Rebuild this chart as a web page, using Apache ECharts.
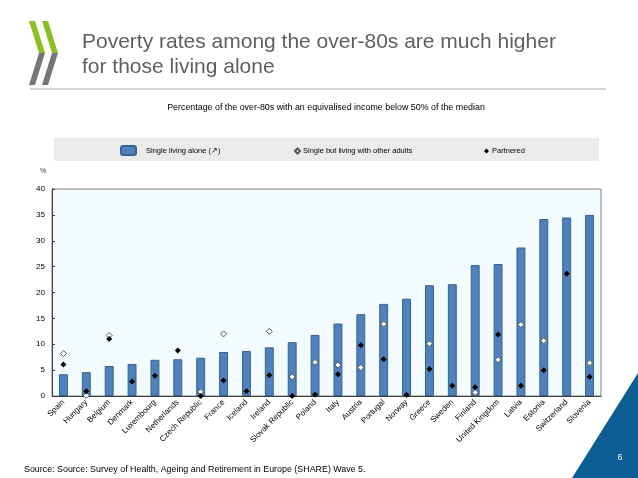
<!DOCTYPE html>
<html>
<head>
<meta charset="utf-8">
<script src="https://cdn.jsdelivr.net/npm/echarts@6/dist/echarts.min.js"></script>
<style>
  html, body { margin: 0; padding: 0; background: #fff; }
  #chart { width: 638px; height: 478px; }
</style>
</head>
<body>
<div id="chart"></div>
<script>
// Countries, sorted by poverty rate of those living alone
const countries = ['Spain', 'Hungary', 'Belgium', 'Denmark', 'Luxembourg', 'Netherlands', 'Czech Republic',
    'France', 'Iceland', 'Ireland', 'Slovak Republic', 'Poland', 'Italy', 'Austria', 'Portugal', 'Norway',
    'Greece', 'Sweden', 'Finland', 'United Kingdom', 'Latvia', 'Estonia', 'Switzerland', 'Slovenia'];

const livingAlone = [4.2, 4.6, 5.8, 6.2, 7.0, 7.1, 7.4, 8.5, 8.7, 9.4, 10.4, 11.8,
    14.0, 15.8, 17.8, 18.8, 21.4, 21.6, 25.3, 25.5, 28.7, 34.2, 34.5, 35.0];

const withOthers = [8.2, 0.1, 11.7, null, null, null, 0.8, 12.0, null, 12.5, 3.7, 6.5,
    6.0, 5.5, 13.9, null, 10.1, null, 0.7, 7.0, 13.8, 10.7, null, 6.4];

const partnered = [6.1, 0.9, 11.0, 2.8, 3.9, 8.8, 0.0, 3.0, 0.9, 4.0, 0.0, 0.3,
    4.2, 9.8, 7.1, 0.2, 5.2, 2.0, 1.7, 11.9, 2.0, 5.0, 23.6, 3.7];

const yTicks = { min: 0, max: 40, step: 5 };

const FONT = "'Liberation Sans', Arial, sans-serif";

const chart = echarts.init(document.getElementById('chart'));

const legendText = { fontFamily: FONT, fontSize: 7.5, color: '#000' };

chart.setOption({
    animation: false,
    backgroundColor: '#fff',
    grid: {
        left: 52, right: 37, top: 189, bottom: 82,
        show: true, backgroundColor: '#f4fbfe', borderColor: '#7f7f7f', borderWidth: 1
    },
    legend: [
        { data: ['Single living alone (↗)'], left: 120, top: 145, padding: 0,
          itemWidth: 15, itemHeight: 9, textStyle: Object.assign({ padding: [0, 0, 0, 5] }, legendText) },
        { data: ['Single but living with other adults'], left: 294, top: 147, padding: 0,
          itemWidth: 5, itemHeight: 5, textStyle: Object.assign({ padding: [0, 0, 0, -2] }, legendText) },
        { data: ['Partnered'], left: 484, top: 147, padding: 0,
          itemWidth: 5, itemHeight: 5, textStyle: Object.assign({ padding: [0, 0, 0, -2] }, legendText) }
    ],
    xAxis: {
        type: 'category',
        data: countries,
        axisLine: { lineStyle: { color: '#404040' } },
        axisTick: { inside: true, length: 3, lineStyle: { color: '#404040' } },
        axisLabel: { rotate: 45, interval: 0, fontFamily: FONT, fontSize: 8, color: '#000', margin: 5 }
    },
    yAxis: {
        type: 'value',
        min: yTicks.min, max: yTicks.max, interval: yTicks.step,
        splitLine: { show: false },
        axisLine: { show: true, lineStyle: { color: '#404040' } },
        axisTick: { show: true, inside: true, length: 3, lineStyle: { color: '#404040' } },
        axisLabel: { fontFamily: FONT, fontSize: 8, color: '#000', margin: 7 }
    },
    series: [
        {
            name: 'Single living alone (↗)', type: 'bar', data: livingAlone, barWidth: '39%',
            itemStyle: { color: '#4f81bd', borderColor: '#38618f', borderWidth: 1 }
        },
        {
            name: 'Single but living with other adults', type: 'scatter', data: withOthers,
            symbol: 'diamond', symbolSize: 6,
            itemStyle: { color: '#fff', borderColor: '#555', borderWidth: 1, opacity: 1 }
        },
        {
            name: 'Partnered', type: 'scatter', data: partnered,
            symbol: 'diamond', symbolSize: 6,
            itemStyle: { color: '#000', opacity: 1 }
        }
    ],
    graphic: [
        // logo chevrons
        { type: 'polygon', shape: { points: [[29, 21], [35, 21], [45, 53], [39, 53]] }, style: { fill: '#8cbf26' } },
        { type: 'polygon', shape: { points: [[39, 53], [45, 53], [35, 85], [29, 85]] }, style: { fill: '#767676' } },
        { type: 'polygon', shape: { points: [[42, 21], [48, 21], [58, 53], [52, 53]] }, style: { fill: '#8cbf26' } },
        { type: 'polygon', shape: { points: [[52, 53], [58, 53], [48, 85], [42, 85]] }, style: { fill: '#767676' } },
        // title
        { type: 'text', left: 82, top: 32, style: { text: 'Poverty rates among the over-80s are much higher',
            fontFamily: FONT, fontSize: 21, fill: '#5f5f5f' } },
        { type: 'text', left: 82, top: 57, style: { text: 'for those living alone',
            fontFamily: FONT, fontSize: 21, fill: '#5f5f5f' } },
        { type: 'line', shape: { x1: 30, y1: 89, x2: 606, y2: 89 }, style: { stroke: '#d4d4d4', lineWidth: 2 } },
        // subtitle
        { type: 'text', x: 326, y: 108, style: { text: 'Percentage of the over-80s with an equivalised income below 50% of the median',
            fontFamily: FONT, fontSize: 8.9, fill: '#000', align: 'center', verticalAlign: 'middle' } },
        // legend background
        { type: 'rect', z: -1, shape: { x: 54, y: 138, width: 545, height: 23 }, style: { fill: '#ebebeb' } },
        { type: 'text', x: 40, y: 171, style: { text: '%', fontFamily: FONT, fontSize: 7, fill: '#333', verticalAlign: 'middle' } },
        // footer
        { type: 'text', x: 24, y: 470, style: { text: 'Source: Source: Survey of Health, Ageing and Retirement in Europe (SHARE) Wave 5.',
            fontFamily: FONT, fontSize: 8.9, fill: '#000', verticalAlign: 'middle' } },
        { type: 'polygon', shape: { points: [[638, 373], [638, 478], [572, 478]] }, style: { fill: '#0b5d93' } },
        { type: 'text', x: 620, y: 458, style: { text: '6', fontFamily: FONT, fontSize: 9, fill: '#fff',
            align: 'center', verticalAlign: 'middle' } }
    ]
});

window.addEventListener('resize', () => chart.resize());
</script>
</body>
</html>
